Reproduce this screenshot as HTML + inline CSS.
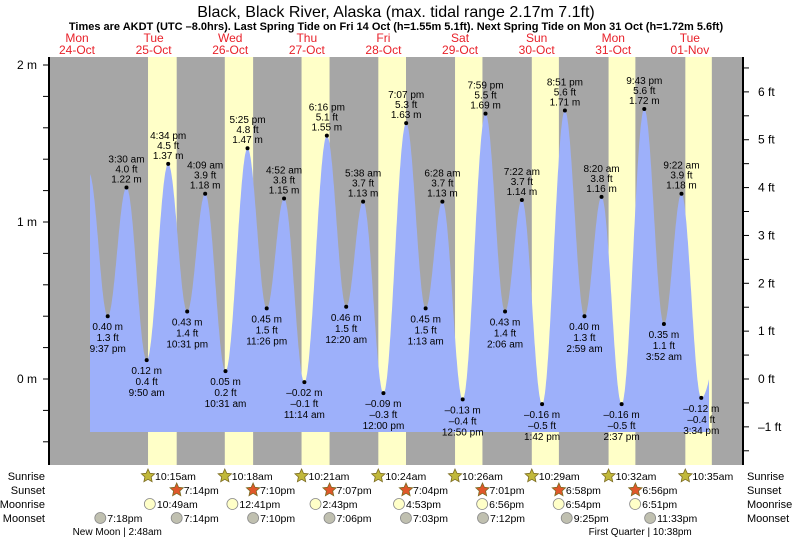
<!DOCTYPE html>
<html><head><meta charset="utf-8"><style>
body{margin:0;background:#fff;}
svg{display:block;font-family:"Liberation Sans",sans-serif;}
</style></head><body>
<svg id="c" width="793" height="539" viewBox="0 0 793 539">
<text x="396" y="17" font-size="16" text-anchor="middle">Black, Black River, Alaska (max. tidal range 2.17m 7.1ft)</text>
<text x="396" y="30" font-size="11" font-weight="bold" text-anchor="middle">Times are AKDT (UTC –8.0hrs). Last Spring Tide on Fri 14 Oct (h=1.55m 5.1ft). Next Spring Tide on Mon 31 Oct (h=1.72m 5.6ft)</text>
<g id="days"></g>
<rect x="50" y="57" width="692" height="408" fill="#a6a6a6"/>
<g id="bands"></g>
<path id="tide" fill="#9db0fa"/>
<g id="marks" font-size="10" text-anchor="middle"></g>
<line x1="49" y1="57" x2="49" y2="465" stroke="#000" stroke-width="2"/>
<line x1="743" y1="57" x2="743" y2="465" stroke="#000" stroke-width="2"/>
<g id="axes" font-size="12"></g>
<g id="astro" font-size="10.5"></g>
</svg>
<script>
const dayNames=["Mon","Tue","Wed","Thu","Fri","Sat","Sun","Mon","Tue"];
const dayDates=["24-Oct","25-Oct","26-Oct","27-Oct","28-Oct","29-Oct","30-Oct","31-Oct","01-Nov"];
// hours since 24-Oct 00:00
const tideTimes=[15.8,21.62,27.5,33.83,40.57,46.52,52.15,58.52,65.42,71.43,76.87,83.23,90.27,96.33,101.63,108,115.12,121.22,126.47,132.83,139.98,146.1,151.37,157.7,164.85,170.98,176.33,182.62,189.72,195.87,201.37,207.57,216];
const tideHeights=[1.31,0.40,1.22,0.12,1.37,0.43,1.18,0.05,1.47,0.45,1.15,-0.02,1.55,0.46,1.13,-0.09,1.63,0.45,1.13,-0.13,1.69,0.43,1.14,-0.16,1.71,0.40,1.16,-0.16,1.72,0.35,1.18,-0.12,0.5];
const tideFeet=["","1.3","4.0","0.4","4.5","1.4","3.9","0.2","4.8","1.5","3.8","–0.1","5.1","1.5","3.7","–0.3","5.3","1.5","3.7","–0.4","5.5","1.4","3.7","–0.5","5.6","1.3","3.8","–0.5","5.6","1.1","3.9","–0.4",""];
const tideLabels=["","9:37 pm","3:30 am","9:50 am","4:34 pm","10:31 pm","4:09 am","10:31 am","5:25 pm","11:26 pm","4:52 am","11:14 am","6:16 pm","12:20 am","5:38 am","12:00 pm","7:07 pm","1:13 am","6:28 am","12:50 pm","7:59 pm","2:06 am","7:22 am","1:42 pm","8:51 pm","2:59 am","8:20 am","2:37 pm","9:43 pm","3:52 am","9:22 am","3:34 pm",""];
const sunriseT=[34.25,58.3,82.35,106.4,130.43,154.48,178.53,202.58];
const sunriseL=["10:15am","10:18am","10:21am","10:24am","10:26am","10:29am","10:32am","10:35am"];
const sunsetT=[43.23,67.17,91.12,115.07,139.02,162.97,186.93,210.88];
const sunsetL=["7:14pm","7:10pm","7:07pm","7:04pm","7:01pm","6:58pm","6:56pm",""];
const moonriseT=[34.82,60.68,86.72,112.88,138.93,162.9,186.85];
const moonriseL=["10:49am","12:41pm","2:43pm","4:53pm","6:56pm","6:54pm","6:51pm"];
const moonsetT=[19.3,43.23,67.17,91.1,115.05,139.2,165.42,191.55];
const moonsetL=["7:18pm","7:14pm","7:10pm","7:06pm","7:03pm","7:12pm","9:25pm","11:33pm"];
const phaseT=[26.8,190.63];
const phaseL=["New Moon | 2:48am","First Quarter | 10:38pm"];
const mTicks=[2,1,0];
const ftTicks=[6,5,4,3,2,1,0,-1];

const NS="http://www.w3.org/2000/svg";
const X=t=>38.7+t*3.192;
const Y=m=>379-m*157;
function mk(tag,attrs,parent,txt){const e=document.createElementNS(NS,tag);for(const k in attrs)e.setAttribute(k,attrs[k]);if(txt!==undefined)e.textContent=txt;parent.appendChild(e);return e;}
const g=id=>document.getElementById(id);

dayNames.forEach((d,i)=>{
 const x=X(i*24+12);
 const a=mk('text',{x:x,y:42,fill:'#e8212a','font-size':12,'text-anchor':'middle'},g('days'),d);
 
 
 const b=mk('text',{x:x,y:54,fill:'#e8212a','font-size':12,'text-anchor':'middle'},g('days'),dayDates[i]);
 
 
});
sunriseT.forEach((s,i)=>{
 const r=mk('rect',{x:X(s),y:57,width:X(sunsetT[i])-X(s),height:408,fill:'#ffffc8'},g('bands'));
 
 
});
const tStart=(90-38.7)/3.192,tEnd=(709-38.7)/3.192;
function h(t){for(let i=0;i<tideTimes.length-1;i++){if(t>=tideTimes[i]&&t<=tideTimes[i+1]){const f=(t-tideTimes[i])/(tideTimes[i+1]-tideTimes[i]);return tideHeights[i]+(tideHeights[i+1]-tideHeights[i])*(1-Math.cos(Math.PI*f))/2;}}return tideHeights[0];}
let d=`M${X(tStart)},432`;
for(let t=tStart;t<=tEnd;t+=0.1)d+=`L${X(t).toFixed(1)},${Y(h(t)).toFixed(1)}`;
d+=`L${X(tEnd)},${Y(h(tEnd))}L${X(tEnd)},432Z`;
g('tide').setAttribute('d',d);
tideTimes.forEach((t,i)=>{
 if(!tideLabels[i])return;
 const x=X(t),y=Y(tideHeights[i]);
 const hi=tideHeights[i]>(tideHeights[i-1]||0);
 const dot=mk('circle',{cx:x,cy:y,r:2,fill:'#000'},g('marks'));
 
 
 const m=tideHeights[i].toFixed(2).replace('-','–')+' m',f=tideFeet[i]+' ft';
 const lines=hi?[tideLabels[i],f,m]:[m,f,tideLabels[i]];
 const offs=hi?[-25,-15,-5]:[14,25,36];
 lines.forEach((s,k)=>{const tx=mk('text',{x:x,y:y+offs[k]},g('marks'),s);
  
  });
});
for(let v=-0.4;v<=2.01;v+=0.2){const l=mk('line',{x1:43,x2:49,y1:Y(v),y2:Y(v),stroke:'#000'},g('axes'));
 
 }
mTicks.forEach(v=>{const t=mk('text',{x:37,y:Y(v)+4,'text-anchor':'end'},g('axes'),v+' m');
 
 });
for(let v=-1.5;v<=6.51;v+=0.5){const y=Y(v*0.3048);if(y<57)continue;const l=mk('line',{x1:743,x2:749,y1:y,y2:y,stroke:'#000'},g('axes'));
 
 }
ftTicks.forEach(v=>{const t=mk('text',{x:758,y:Y(v*0.3048)+4},g('axes'),String(v).replace('-','–')+' ft');
 
 });
const rows=[["Sunrise",480],["Sunset",494],["Moonrise",508],["Moonset",522]];
rows.forEach(r=>{
 const a=mk('text',{x:45,y:r[1],'text-anchor':'end','font-size':11},g('astro'),r[0]);
 
 
 const b=mk('text',{x:747,y:r[1],'font-size':11},g('astro'),r[0]);
 
 
});
function star(cx,cy){let p='';for(let k=0;k<10;k++){const rr=k%2?3.3:7,a=-Math.PI/2+k*Math.PI/5;p+=(cx+rr*Math.cos(a)).toFixed(1)+','+(cy+rr*Math.sin(a)).toFixed(1)+' ';}return p;}
function row(ts,ls,y,kind){ts.forEach((t,i)=>{const x=X(t);
 if(kind==='sr'||kind==='ss'){const s=mk('polygon',{points:star(x,y-4),fill:kind==='sr'?'#c1b83a':'#e0572a',stroke:'#7a6a20','stroke-width':0.8},g('astro'));
  
  }
 else{const c=mk('circle',{cx:x,cy:y-4,r:5.5,fill:kind==='mr'?'#ffffc8':'#c0c0b0',stroke:'#888','stroke-width':0.8},g('astro'));
  
  }
 if(ls[i]){const tx=mk('text',{x:x+7,y:y},g('astro'),ls[i]);
  
  }
});}
row(sunriseT,sunriseL,480,'sr');
row(sunsetT.slice(0,7),sunsetL,494,'ss');
row(moonriseT,moonriseL,508,'mr');
row(moonsetT,moonsetL,522,'ms');
phaseT.forEach((t,i)=>{const tx=mk('text',{x:X(t)-7,y:535,'text-anchor':'middle','font-size':10},g('astro'),phaseL[i]);
 
 });
</script>
</body></html>
